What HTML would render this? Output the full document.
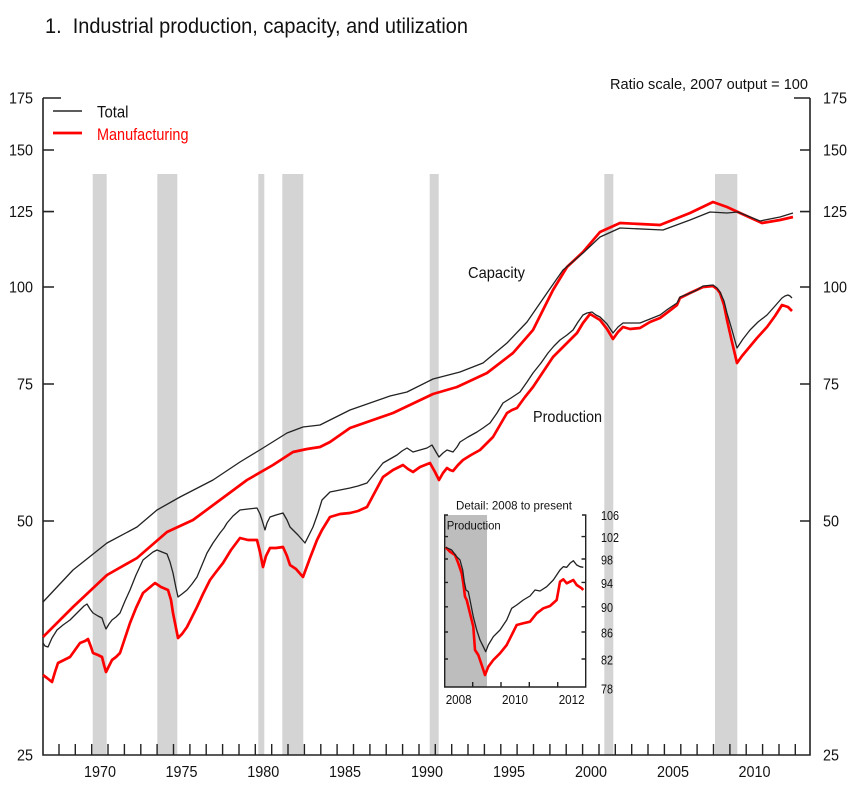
<!DOCTYPE html>
<html><head><meta charset="utf-8"><style>
html,body{margin:0;padding:0;background:#fff;}
svg{display:block;}
text{font-family:"Liberation Sans",Arial,sans-serif;fill:#111;}
</style></head><body>
<svg width="867" height="790" viewBox="0 0 867 790" xmlns="http://www.w3.org/2000/svg">
<rect x="0" y="0" width="867" height="790" fill="#fff"/>
<text x="45" y="33" font-size="21" textLength="423" lengthAdjust="spacingAndGlyphs">1.&#160; Industrial production, capacity, and utilization</text>
<text x="610" y="89" font-size="15" textLength="198" lengthAdjust="spacingAndGlyphs">Ratio scale, 2007 output = 100</text>

<!-- recession bands -->
<g fill="#d4d4d4">
<rect x="92.7" y="174" width="14" height="581"/>
<rect x="157.3" y="174" width="20" height="581"/>
<rect x="258.3" y="174" width="6" height="581"/>
<rect x="282.3" y="174" width="21" height="581"/>
<rect x="429.7" y="174" width="9" height="581"/>
<rect x="604.3" y="174" width="9" height="581"/>
<rect x="715" y="174" width="22.3" height="581"/>
</g>

<!-- axes -->
<g stroke="#222" stroke-width="1.6" fill="none">
<path d="M43,98 V755 H810 V98"/>
<path d="M43,98 H61 M43,150 H54 M43,211.6 H54 M43,287 H54 M43,384 H54 M43,521 H54"/>
<path d="M810,98 H794 M810,150 H800 M810,211.6 H800 M810,287 H800 M810,384 H800 M810,521 H800"/>
</g>

<g font-size="15.5">
<text x="33" y="103.5" text-anchor="end" textLength="24" lengthAdjust="spacingAndGlyphs">175</text>
<text x="33" y="155.5" text-anchor="end" textLength="24" lengthAdjust="spacingAndGlyphs">150</text>
<text x="33" y="217" text-anchor="end" textLength="24" lengthAdjust="spacingAndGlyphs">125</text>
<text x="33" y="292.5" text-anchor="end" textLength="24" lengthAdjust="spacingAndGlyphs">100</text>
<text x="33" y="389.5" text-anchor="end" textLength="16" lengthAdjust="spacingAndGlyphs">75</text>
<text x="33" y="526.5" text-anchor="end" textLength="16" lengthAdjust="spacingAndGlyphs">50</text>
<text x="33" y="760.5" text-anchor="end" textLength="16" lengthAdjust="spacingAndGlyphs">25</text>
<text x="823" y="103.5" textLength="24" lengthAdjust="spacingAndGlyphs">175</text>
<text x="823" y="155.5" textLength="24" lengthAdjust="spacingAndGlyphs">150</text>
<text x="823" y="217" textLength="24" lengthAdjust="spacingAndGlyphs">125</text>
<text x="823" y="292.5" textLength="24" lengthAdjust="spacingAndGlyphs">100</text>
<text x="823" y="389.5" textLength="16" lengthAdjust="spacingAndGlyphs">75</text>
<text x="823" y="526.5" textLength="16" lengthAdjust="spacingAndGlyphs">50</text>
<text x="823" y="760.5" textLength="16" lengthAdjust="spacingAndGlyphs">25</text>
</g>
<g font-size="15.5" text-anchor="middle">
<text x="100" y="777" textLength="32" lengthAdjust="spacingAndGlyphs">1970</text>
<text x="181.5" y="777" textLength="32" lengthAdjust="spacingAndGlyphs">1975</text>
<text x="263.3" y="777" textLength="32" lengthAdjust="spacingAndGlyphs">1980</text>
<text x="345" y="777" textLength="32" lengthAdjust="spacingAndGlyphs">1985</text>
<text x="427" y="777" textLength="32" lengthAdjust="spacingAndGlyphs">1990</text>
<text x="509" y="777" textLength="32" lengthAdjust="spacingAndGlyphs">1995</text>
<text x="591" y="777" textLength="32" lengthAdjust="spacingAndGlyphs">2000</text>
<text x="673" y="777" textLength="32" lengthAdjust="spacingAndGlyphs">2005</text>
<text x="754.5" y="777" textLength="32" lengthAdjust="spacingAndGlyphs">2010</text>
</g>

<!-- legend -->
<line x1="53" y1="111" x2="82" y2="111" stroke="#444" stroke-width="1.8"/>
<line x1="53" y1="133" x2="82" y2="133" stroke="#f00" stroke-width="2.7"/>
<text x="97" y="117.5" font-size="16.5" textLength="31.5" lengthAdjust="spacingAndGlyphs">Total</text>
<text x="97" y="140" font-size="16.5" fill="#f00" style="fill:#f00" textLength="91.5" lengthAdjust="spacingAndGlyphs">Manufacturing</text>

<text x="468" y="278" font-size="16" textLength="57" lengthAdjust="spacingAndGlyphs">Capacity</text>
<text x="533" y="422" font-size="16" textLength="69" lengthAdjust="spacingAndGlyphs">Production</text>

<!-- capacity manufacturing -->
<polyline fill="none" stroke="#f00" stroke-width="2.7" stroke-linejoin="round" points="43,637 73,607 107,575 137,558 167,532 193,520 220,500 247,480 273,465 293,452 307,449 320,447 330,442 350,428 393,413 433,394 457,387 487,373 513,353 533,330 553,290 567,267 583,252 600,232 620,223 660,225 690,213 713,202 727,207 740,213 762,223 780,220 793,217"/>
<!-- capacity total -->
<polyline fill="none" stroke="#222" stroke-width="1.3" stroke-linejoin="round" points="43,602 73,570 107,543 137,527 157,510 180,497 213,480 240,462 263,448 287,433 303,427 320,425 350,410 390,396 407,392 433,379 460,372 483,363 507,343 527,322 547,293 563,270 583,253 600,237 620,228 663,230 690,220 710,212 727,213 738,212 760,221 780,217 793,213"/>
<!-- production manufacturing -->
<polyline fill="none" stroke="#f00" stroke-width="2.7" stroke-linejoin="round" points="43,675 47,678 52,682 55,672 58,663 64,660 70,657 75,650 80,643 85,641 88,639 91,647 93,653 98,655 102,657 104,665 106,672 109,666 112,660 116,657 120,653 125,638 130,623 136,608 143,593 149,588 155,583 161,587 168,590 171,600 173,613 176,628 178,638 182,634 187,627 192,617 197,607 203,594 210,580 216,572 223,563 231,550 240,538 248,540 257,540 260,552 263,567 266,556 270,548 276,548 283,547 287,556 290,565 296,569 303,577 310,558 317,540 322,530 330,517 340,514 350,513 358,511 367,507 375,492 383,477 393,470 403,465 408,469 413,472 420,467 430,463 435,472 439,480 443,473 447,468 450,470 453,471 458,465 463,460 471,455 480,450 487,443 493,437 500,425 507,413 512,410 517,408 525,397 533,387 543,372 553,357 558,352 563,347 570,340 577,333 583,323 590,314 595,317 600,320 607,329 613,339 618,332 623,327 630,329 640,328 650,322 660,318 668,312 677,305 680,298 690,293 703,287 713,286 717,289 720,293 724,305 727,320 732,342 737,363 742,356 747,350 757,338 767,327 775,316 782,305 785,306 788,307 790,309 792,311"/>
<!-- production total -->
<polyline fill="none" stroke="#222" stroke-width="1.3" stroke-linejoin="round" points="43,643 45,646 48,647 52,638 57,630 63,625 70,620 75,615 80,610 84,606 87,604 90,609 93,613 98,616 102,618 104,624 106,629 109,624 112,620 116,617 120,613 125,601 130,590 136,575 143,560 148,556 153,552 157,550 162,552 167,554 170,562 173,573 176,588 178,597 182,594 187,590 192,584 197,577 202,565 207,553 213,543 220,533 224,528 227,523 233,516 240,510 248,509 257,508 260,514 262,520 265,530 267,523 270,517 276,515 283,513 287,520 290,527 298,535 305,543 309,535 313,527 318,513 322,500 326,496 330,492 340,490 350,488 358,486 367,483 375,473 383,463 390,459 397,455 402,451 407,448 410,450 413,452 420,450 427,448 432,445 436,452 439,457 443,453 447,450 450,451 453,452 457,447 460,442 468,437 477,432 483,428 490,423 497,413 503,403 511,398 520,392 527,382 533,373 541,363 548,353 554,346 560,340 567,335 573,330 578,322 583,315 587,313 592,312 596,315 600,317 607,324 613,333 618,327 623,323 631,323 640,323 650,319 660,315 668,309 677,303 680,297 688,294 697,290 703,286 713,285 717,288 720,292 724,301 727,313 732,330 737,348 743,339 750,330 758,322 767,315 775,306 782,298 785,296 788,295 790,296 792,298"/>

<!-- inset -->
<rect x="444.7" y="515" width="42.3" height="172" fill="#bdbdbd"/>
<text x="456" y="509.5" font-size="12" textLength="116" lengthAdjust="spacingAndGlyphs">Detail: 2008 to present</text>
<text x="446.7" y="529.5" font-size="12" textLength="54" lengthAdjust="spacingAndGlyphs">Production</text>
<g stroke="#222" stroke-width="1.4" fill="none">
<path d="M448,515 H444.7 V687 H585.7 V515 H582"/>
<path d="M444.7,536.6 H448 M444.7,559 H448 M444.7,582.4 H448 M444.7,606.8 H448 M444.7,632 H448 M444.7,659 H448"/>
<path d="M585.7,536.6 H581.5 M585.7,559 H581.5 M585.7,582.4 H581.5 M585.7,606.8 H581.5 M585.7,632 H581.5 M585.7,659 H581.5"/>
<path d="M472.7,687 V682 M501,687 V682 M529.3,687 V682 M557.7,687 V682"/>
</g>
<polyline fill="none" stroke="#f00" stroke-width="2.6" stroke-linejoin="round" points="445.7,547.3 450,551.7 455,555 458.3,563.3 461.7,573.3 463.3,583.3 465,596.7 466.7,600 470,613.3 473.3,626.7 475,650 478.3,655 481.7,665 485,675 488.3,666.7 493.3,660 500,653.3 506.7,645 511.7,635 516.7,625 523.3,623.3 530,621.7 536.7,613.3 543.3,608.3 550,606 556.7,600 560,581.7 563.3,579.3 566.7,583.3 570,581.7 573.3,580 576.7,585 581.7,588.3 583.3,590"/>
<polyline fill="none" stroke="#222" stroke-width="1.3" stroke-linejoin="round" points="445.7,547.3 451.7,550 456.7,556.7 460,560 462.7,570 464.3,581.7 466,590 468.3,591.7 470,600 473.3,616.7 476.7,630 480,640 483.3,646.7 485.7,651.7 488.3,645 493.3,636.7 500,630 506.7,620 511.7,608.3 516.7,605 523.3,600 530,596 535,590 540,591 546.7,586.7 553.3,580 560,570 563.3,566.7 566.7,567.3 570,563.3 573.3,560.7 576.7,565 580,566.7 583.3,567.3"/>
<g font-size="12.5">
<text x="601" y="520" textLength="18" lengthAdjust="spacingAndGlyphs">106</text>
<text x="601" y="542" textLength="18" lengthAdjust="spacingAndGlyphs">102</text>
<text x="601" y="564.5" textLength="12" lengthAdjust="spacingAndGlyphs">98</text>
<text x="601" y="588" textLength="12" lengthAdjust="spacingAndGlyphs">94</text>
<text x="601" y="612" textLength="12" lengthAdjust="spacingAndGlyphs">90</text>
<text x="601" y="637.5" textLength="12" lengthAdjust="spacingAndGlyphs">86</text>
<text x="601" y="664.5" textLength="12" lengthAdjust="spacingAndGlyphs">82</text>
<text x="601" y="693.5" textLength="12" lengthAdjust="spacingAndGlyphs">78</text>
</g>
<g font-size="12.5" text-anchor="middle">
<text x="458.7" y="704" textLength="26" lengthAdjust="spacingAndGlyphs">2008</text>
<text x="515" y="704" textLength="26" lengthAdjust="spacingAndGlyphs">2010</text>
<text x="571.7" y="704" textLength="26" lengthAdjust="spacingAndGlyphs">2012</text>
</g>

<!-- x ticks -->
<g stroke="#222" stroke-width="1.4">
<path d="M59,755V744 M75.3,755V744 M91.7,755V744 M108,755V744 M124.4,755V744 M140.8,755V744 M157.1,755V744 M173.5,755V744 M189.9,755V744 M206.2,755V744 M222.6,755V744 M239,755V744 M255.3,755V744 M271.7,755V744 M288,755V744 M304.4,755V744 M320.8,755V744 M337.1,755V744 M353.5,755V744 M369.9,755V744 M386.2,755V744 M402.6,755V744 M419,755V744 M435.3,755V744 M451.7,755V744 M468,755V744 M484.4,755V744 M500.8,755V744 M517.1,755V744 M533.5,755V744 M549.9,755V744 M566.2,755V744 M582.6,755V744 M599,755V744 M615.3,755V744 M631.7,755V744 M648,755V744 M664.4,755V744 M680.8,755V744 M697.1,755V744 M713.5,755V744 M729.9,755V744 M746.2,755V744 M762.6,755V744 M779,755V744 M795.3,755V744"/>
</g>
</svg>
</body></html>
